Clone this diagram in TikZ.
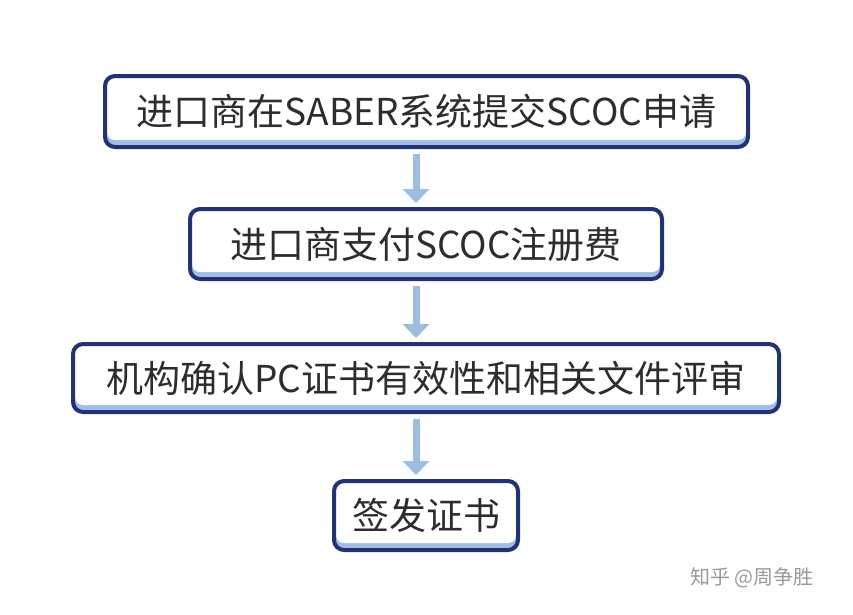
\documentclass[tikz,border=0pt]{standalone}
\usepackage{fontspec}
\setmainfont{Noto Sans CJK SC}
\usetikzlibrary{arrows.meta}
\definecolor{navy}{RGB}{35,50,115}
\definecolor{band}{RGB}{160,190,225}
\definecolor{arr}{RGB}{155,190,225}
\definecolor{txt}{RGB}{45,45,45}
\tikzset{
  flow/.style={draw=arr,line width=7pt,-{Triangle[length=14pt,width=26pt]}}
}
\newcommand{\mybox}[6]{%
  \fill[band,rounded corners=10pt] (#2,-#3) rectangle (#4,-#5);
  \fill[white,rounded corners=8pt] (#2+2,-#3-2) rectangle (#4-2,-#5+7);
  \draw[navy,line width=4pt,rounded corners=10pt] (#2,-#3) rectangle (#4,-#5);
  \node[font=\fontsize{37}{37}\selectfont,text=txt] (#1) at ({(#2+#4)/2},{-(#3+#5)/2}) {#6};
  \coordinate (#1t) at (416,-#3);
  \coordinate (#1b) at (416,-#5);
}
\begin{document}
\begin{tikzpicture}[x=1pt,y=1pt]
\useasboundingbox[fill=white] (0,0) rectangle (853,-614);
\mybox{a}{105}{76}{748}{147}{进口商在SABER系统提交SCOC申请}
\mybox{b}{190}{209}{662}{279}{进口商支付SCOC注册费}
\mybox{c}{73}{344}{779}{412}{机构确认PC证书有效性和相关文件评审}
\mybox{d}{334}{481}{518}{550}{签发证书}
\draw[flow] ([yshift=-7pt]ab) -- ([yshift=6pt]bt);
\draw[flow] ([yshift=-7pt]bb) -- ([yshift=6pt]ct);
\draw[flow] ([yshift=-7pt]cb) -- ([yshift=6pt]dt);
\node[text=gray!80,font=\fontsize{20}{20}\selectfont] (w) at (752,-578) {知乎 @周争胜};
\end{tikzpicture}
\end{document}
